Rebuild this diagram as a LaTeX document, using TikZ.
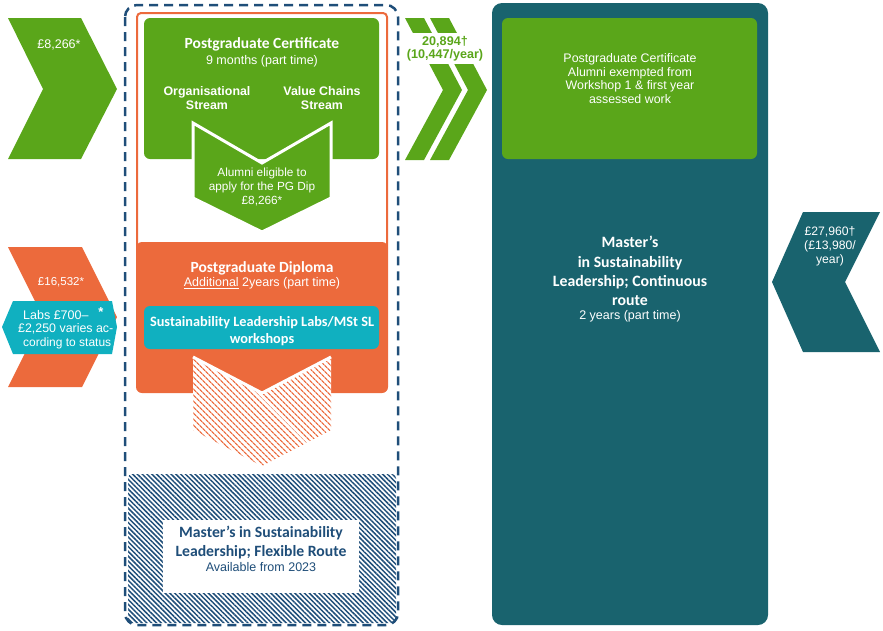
\documentclass[tikz,border=0pt]{standalone}
\usepackage{fontspec}
\setmainfont{Liberation Sans}
\newfontfamily\carlito{Carlito}
\usetikzlibrary{patterns.meta}
\definecolor{pgreen}{RGB}{90,166,26}
\definecolor{porange}{RGB}{236,106,60}
\definecolor{pcyan}{RGB}{16,176,192}
\definecolor{pteal}{RGB}{25,99,110}
\definecolor{pblue}{RGB}{31,78,121}
\begin{document}
\begin{tikzpicture}[x=1pt,y=-1pt,
  lbl/.style={text=white,font=\fontsize{12.5}{13.7}\selectfont,inner sep=0pt,align=center},
  blbl/.style={text=white,font=\bfseries\fontsize{12.4}{14}\selectfont,inner sep=0pt,align=center},
  ttl/.style={text=white,font=\carlito\bfseries\fontsize{15.8}{19.3}\selectfont,inner sep=0pt,align=center},
  boxr/.style={rounded corners=6pt},
  wline/.style={draw=white,line width=3pt,line join=miter}]
\useasboundingbox (0,0) rectangle (883,630);

% left chevrons
\fill[pgreen] (8,18) -- (81,18) -- (117,89) -- (81,159) -- (8,159) -- (43,89) -- cycle;
\fill[porange] (8,247) -- (82,247) -- (117,317) -- (82,387) -- (8,387) -- (43,317) -- cycle;
\fill[pcyan] (13,301) -- (112,301) -- (117,327) -- (112,354) -- (13,354) -- (2,327) -- cycle;

% flexible route hatched box
\path[pattern={Lines[angle=-45,distance=3.4pt,line width=1.5pt]},pattern color=pblue,rounded corners=4pt]
  (128,474) rectangle (396,623);
\fill[white] (163,520) rectangle (359,593);

% orange outline
\draw[porange,line width=2pt,rounded corners=4pt] (137,13) rectangle (387,252);
% PG certificate
\fill[pgreen,boxr] (144,18) rectangle (379,159);
\path[fill=pgreen,wline] (193,123) -- (262,163) -- (331,123) -- (331,198) -- (262,232) -- (193,198) -- cycle;
% PG diploma
\fill[porange,boxr] (136,242) rectangle (388,393);
\fill[pcyan,boxr] (144,306) rectangle (379,349);
% hatched arrow
\fill[white] (193,357) -- (262,393) -- (331,357) -- (331,430) -- (262,466) -- (193,430) -- cycle;
\path[pattern={Lines[angle=-45,distance=4pt,line width=1.3pt]},pattern color=porange]
  (193,357) -- (262,393) -- (331,357) -- (331,430) -- (262,466) -- (193,430) -- cycle;
\draw[white,line width=3pt] (193,357) -- (262,393) -- (331,357);

% dashed border
\draw[pblue,line width=2.5pt,dash pattern=on 9pt off 6pt,rounded corners=12pt] (125,5) rectangle (398,625);

% middle double chevron
\fill[pgreen] (405,18) -- (424,18) -- (462,90) -- (424,160) -- (405,160) -- (443,90) -- cycle;
\fill[pgreen] (430,18) -- (449,18) -- (487,90) -- (449,160) -- (430,160) -- (468,90) -- cycle;
\fill[white] (400,33) rectangle (490,64);

% continuous route
\fill[pteal,rounded corners=10pt] (492,3) rectangle (768,625);
\fill[pgreen,boxr] (502,18) rectangle (757,159);
\fill[pteal] (803,212) -- (880,212) -- (845,282) -- (880,352) -- (803,352) -- (772,282) -- cycle;

% texts
\node[lbl] (c1) at (59,45) {£8,266*};
\node[lbl,font=\fontsize{11.5}{13}\selectfont] (c2) at (61,282) {£16,532*};
\node[lbl,anchor=west] (lab1) at (23,315) {Labs £700–};
\node[lbl,font=\bfseries\fontsize{13}{13}\selectfont] (labstar) at (101,312) {*};
\node[lbl,anchor=west,font=\fontsize{12.4}{13}\selectfont] (lab2) at (18,329) {£2,250 varies ac-};
\node[lbl,anchor=west,font=\fontsize{12}{13}\selectfont] (lab3) at (23,343) {cording to status};

\node[ttl,font=\carlito\bfseries\fontsize{15.5}{17}\selectfont] (pgct) at (262,44) {Postgraduate Certificate};
\node[lbl] (pgcd) at (262,61) {9 months (part time)};
\node[blbl] (org) at (207,98) {Organisational\\Stream};
\node[blbl] (val) at (322,98) {Value Chains\\Stream};
\node[lbl,font=\fontsize{11.8}{13.6}\selectfont] (alum) at (262,187) {Alumni eligible to\\apply for the PG Dip\\£8,266*};

\node[ttl,font=\carlito\bfseries\fontsize{15.5}{17}\selectfont] (pgdt) at (262,268) {Postgraduate Diploma};
\node[lbl] (pgdd) at (262,283.5) {\underline{Additional} 2years (part time)};
\node[ttl,font=\carlito\bfseries\fontsize{14.3}{17}\selectfont] (labs) at (262,331.5) {Sustainability Leadership Labs/MSt SL\\workshops};

\node[ttl,text=pblue,font=\carlito\bfseries\fontsize{15.7}{19}\selectfont] (flex) at (261,542.5) {Master’s in Sustainability\\Leadership; Flexible Route};
\node[lbl,text=pblue] (flexd) at (261,567) {Available from 2023};

\node[blbl,text=pgreen,font=\bfseries\fontsize{12.6}{13.2}\selectfont] (mid) at (445,48.5) {20,894†\\(10,447/year)};

\node[lbl,font=\fontsize{12.4}{13.7}\selectfont] (ex) at (630,78.5) {Postgraduate Certificate\\Alumni exempted from\\Workshop 1 \& first year\\assessed work};
\node[ttl] (cont) at (630,271) {Master’s\\in Sustainability\\Leadership; Continuous\\route};
\node[lbl] (contd) at (630,316.5) {2 years (part time)};
\node[lbl,font=\fontsize{12.2}{14}\selectfont] (rc) at (830,246) {£27,960†\\(£13,980/\\year)};
\end{tikzpicture}
\end{document}
